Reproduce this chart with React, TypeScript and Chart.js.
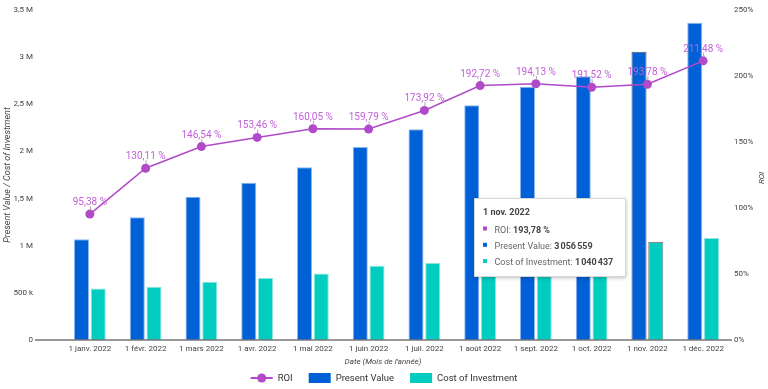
import { useEffect, useRef } from 'react';
import { Chart, registerables } from 'chart.js';

Chart.register(...registerables);

const categories = ['1 janv. 2022', '1 févr. 2022', '1 mars 2022', '1 avr. 2022', '1 mai 2022', '1 juin 2022', '1 juil. 2022', '1 août 2022', '1 sept. 2022', '1 oct. 2022', '1 nov. 2022', '1 déc. 2022'];
const roi = [95.38, 130.11, 146.54, 153.46, 160.05, 159.79, 173.92, 192.72, 194.13, 191.52, 193.78, 211.48];
const presentValue = [1068000, 1301000, 1520000, 1668000, 1832000, 2047000, 2235000, 2489000, 2687000, 2797000, 3056559, 3366000];
const costOfInvestment = [547000, 565000, 617000, 658000, 704000, 788000, 816000, 850000, 914000, 959000, 1040437, 1081000];
const leftTickLabels = ['0', '500 k', '1 M', '1,5 M', '2 M', '2,5 M', '3 M', '3,5 M'];
const rightTickLabels = ['0%', '50%', '100%', '150%', '200%', '250%'];
const tooltipIndex = 10;

const FONT = 'Roboto, "Noto Sans", sans-serif';
const BLUE = '#0060d6';
const TEAL = '#00cdc0';
const PURPLE = '#b04ac9';
const LABEL_PURPLE = '#c260d8';

const fmtPct = (v: number) => v.toFixed(2).replace('.', ',') + ' %';
const fmtNum = (v: number) => new Intl.NumberFormat('fr-FR').format(v);

const overlayPlugin = {
  id: 'overlay',
  afterDatasetsDraw(chart: any) {
    const ctx = chart.ctx;
    const meta = chart.getDatasetMeta(0);
    ctx.save();
    ctx.font = `10px ${FONT}`;
    ctx.textAlign = 'center';
    ctx.textBaseline = 'alphabetic';
    meta.data.forEach((pt: any, i: number) => {
      ctx.strokeStyle = '#aaa';
      ctx.lineWidth = 1;
      ctx.beginPath();
      ctx.moveTo(pt.x + 0.5, pt.y - 8);
      ctx.lineTo(pt.x + 0.5, pt.y - 4);
      ctx.stroke();
      ctx.fillStyle = LABEL_PURPLE;
      ctx.fillText(fmtPct(roi[i]), pt.x, pt.y - 9);
    });
    ctx.restore();
  },
  afterDraw(chart: any) {
    const ctx = chart.ctx;
    const area = chart.chartArea;
    ctx.save();
    ctx.strokeStyle = '#777';
    ctx.lineWidth = 1.5;
    ctx.beginPath();
    ctx.moveTo(35, area.bottom);
    ctx.lineTo(area.right + 1, area.bottom);
    ctx.stroke();

    ctx.fillStyle = '#444';
    ctx.font = `italic 8px ${FONT}`;
    ctx.textAlign = 'center';
    ctx.textBaseline = 'middle';
    ctx.fillText("Date (Mois de l'année)", (35 + area.right) / 2, 362);
    ctx.font = `italic 9px ${FONT}`;
    ctx.save();
    ctx.translate(8, (area.top + area.bottom) / 2);
    ctx.rotate(-Math.PI / 2);
    ctx.fillText('Present Value / Cost of Investment', 0, 0);
    ctx.restore();
    ctx.font = `italic 8px ${FONT}`;
    ctx.save();
    ctx.translate(762, 178);
    ctx.rotate(-Math.PI / 2);
    ctx.fillText('ROI', 0, 0);
    ctx.restore();

    ctx.font = `9.5px ${FONT}`;
    ctx.textBaseline = 'middle';
    ctx.textAlign = 'left';
    const ly = 378;
    const items = [
      { label: 'ROI', kind: 'line', color: PURPLE },
      { label: 'Present Value', kind: 'box', color: BLUE },
      { label: 'Cost of Investment', kind: 'box', color: TEAL },
    ];
    const markW = 22;
    const gapText = 5;
    const gapItem = 16;
    let total = 0;
    items.forEach((it, i) => {
      total += markW + gapText + ctx.measureText(it.label).width + (i < items.length - 1 ? gapItem : 0);
    });
    let x = (chart.width - total) / 2;
    items.forEach((it) => {
      if (it.kind === 'line') {
        ctx.strokeStyle = it.color;
        ctx.lineWidth = 2;
        ctx.beginPath();
        ctx.moveTo(x, ly);
        ctx.lineTo(x + markW, ly);
        ctx.stroke();
        ctx.fillStyle = it.color;
        ctx.beginPath();
        ctx.arc(x + markW / 2, ly, 4.5, 0, Math.PI * 2);
        ctx.fill();
      } else {
        ctx.fillStyle = it.color;
        ctx.fillRect(x, ly - 5, markW, 10);
      }
      ctx.fillStyle = '#333';
      ctx.fillText(it.label, x + markW + gapText, ly + 0.5);
      x += markW + gapText + ctx.measureText(it.label).width + gapItem;
    });

    const cx = chart.scales.x.getPixelForValue(tooltipIndex);
    const bx = Math.round(cx - 173) + 0.5;
    const by = 198.5;
    const bw = 151;
    const bh = 78;
    ctx.save();
    ctx.shadowColor = 'rgba(0,0,0,0.25)';
    ctx.shadowBlur = 4;
    ctx.shadowOffsetY = 1;
    ctx.fillStyle = '#fff';
    ctx.fillRect(bx, by, bw, bh);
    ctx.restore();
    ctx.strokeStyle = '#d6d6d6';
    ctx.lineWidth = 1;
    ctx.strokeRect(bx, by, bw, bh);

    ctx.textBaseline = 'alphabetic';
    ctx.fillStyle = '#444';
    ctx.font = `bold 9px ${FONT}`;
    ctx.fillText(categories[tooltipIndex], bx + 8.5, by + 16);
    const rows = [
      { label: 'ROI: ', value: fmtPct(roi[tooltipIndex]), color: PURPLE },
      { label: 'Present Value: ', value: fmtNum(presentValue[tooltipIndex]), color: BLUE },
      { label: 'Cost of Investment: ', value: fmtNum(costOfInvestment[tooltipIndex]), color: TEAL },
    ];
    rows.forEach((r, i) => {
      const ry = by + 34 + i * 16.3;
      ctx.fillStyle = r.color;
      ctx.fillRect(bx + 8.5, ry - 6, 4, 4);
      ctx.font = `9px ${FONT}`;
      ctx.fillStyle = '#666';
      ctx.fillText(r.label, bx + 20, ry);
      const w = ctx.measureText(r.label).width;
      ctx.font = `bold 9px ${FONT}`;
      ctx.fillStyle = '#444';
      ctx.fillText(r.value, bx + 20 + w, ry);
    });
    ctx.restore();
  },
};

export default function App() {
  const canvasRef = useRef<HTMLCanvasElement | null>(null);

  useEffect(() => {
    document.body.style.margin = '0';
    const canvas = canvasRef.current;
    if (!canvas) return;
    const blueBorders = categories.map((_, i) => (i === tooltipIndex ? '#555' : '#8ab6ee'));
    const tealBorders = categories.map((_, i) => (i === tooltipIndex ? '#888' : '#8fe6df'));
    const chart = new Chart(canvas, {
      type: 'bar',
      data: {
        labels: categories,
        datasets: [
          {
            type: 'line',
            label: 'ROI',
            data: roi,
            yAxisID: 'y1',
            borderColor: PURPLE,
            backgroundColor: PURPLE,
            borderWidth: 1.5,
            pointRadius: 4.5,
            pointBackgroundColor: PURPLE,
            pointBorderWidth: 0,
            tension: 0,
            order: 0,
          } as any,
          {
            type: 'bar',
            label: 'Present Value',
            data: presentValue,
            yAxisID: 'y',
            backgroundColor: BLUE,
            borderColor: blueBorders,
            borderWidth: 1,
            categoryPercentage: 0.6,
            barPercentage: 0.9,
            order: 1,
          },
          {
            type: 'bar',
            label: 'Cost of Investment',
            data: costOfInvestment,
            yAxisID: 'y',
            backgroundColor: TEAL,
            borderColor: tealBorders,
            borderWidth: 1,
            categoryPercentage: 0.6,
            barPercentage: 0.9,
            order: 1,
          },
        ],
      },
      options: {
        responsive: false,
        animation: false,
        devicePixelRatio: 1,
        layout: { padding: { top: 10, left: 0, right: 0, bottom: 0 } },
        plugins: {
          legend: { display: false },
          tooltip: { enabled: false },
        },
        scales: {
          x: {
            type: 'category',
            grid: { display: false, drawTicks: false },
            border: { display: false },
            ticks: {
              font: { family: FONT, size: 8 },
              color: '#444',
              padding: 4,
              maxRotation: 0,
              autoSkip: false,
            },
            afterFit: (s: any) => {
              s.height = 49;
            },
          },
          y: {
            position: 'left',
            min: 0,
            max: 3500000,
            grid: { display: false, drawTicks: false },
            border: { display: false },
            ticks: {
              stepSize: 500000,
              font: { family: FONT, size: 8 },
              color: '#444',
              padding: 29,
              callback: (v: any) => leftTickLabels[Math.round(Number(v) / 500000)] ?? '',
            },
            afterFit: (s: any) => {
              s.width = 62;
              s.paddingTop = 0;
              s.paddingBottom = 0;
            },
          },
          y1: {
            position: 'right',
            min: 0,
            max: 250,
            grid: { display: false, drawTicks: false },
            border: { display: false },
            ticks: {
              stepSize: 50,
              font: { family: FONT, size: 8 },
              color: '#444',
              padding: 3,
              callback: (v: any) => rightTickLabels[Math.round(Number(v) / 50)] ?? '',
            },
            afterFit: (s: any) => {
              s.width = 37;
              s.paddingTop = 0;
              s.paddingBottom = 0;
            },
          },
        },
      } as any,
      plugins: [overlayPlugin],
    });
    return () => chart.destroy();
  }, []);

  return (
    <div style={{ width: 768, height: 389 }}>
      <canvas ref={canvasRef} width={768} height={389} style={{ display: 'block' }} />
    </div>
  );
}
